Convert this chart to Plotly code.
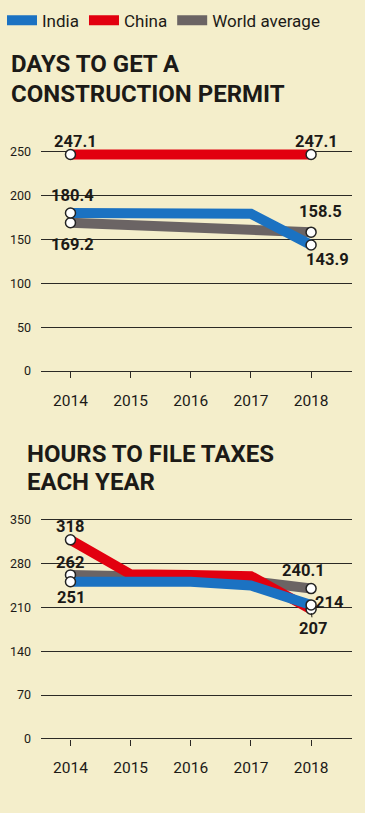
import plotly.graph_objects as go

# ---------------- data ----------------
years = [2014, 2015, 2016, 2017, 2018]
series_names = ["India", "China", "World average"]

permit_india = [180.4, 180.4, 180.4, 179.5, 143.9]
permit_china = [247.1, 247.1, 247.1, 247.1, 247.1]
permit_world = [169.2, 167.0, 165.0, 162.0, 158.5]
permit_ticks = [0, 50, 100, 150, 200, 250]

tax_india = [251, 251, 251, 245, 214]
tax_china = [318, 263, 262, 260, 207]
tax_world = [262, 260, 258, 252, 240.1]
tax_ticks = [0, 70, 140, 210, 280, 350]

title_permit = ["DAYS TO GET A", "CONSTRUCTION PERMIT"]
title_tax = ["HOURS TO FILE TAXES", "EACH YEAR"]

# ---------------- style ----------------
W, H = 365, 813
BG = "#f4eecb"
INK = "#1c1a17"
GRID = "#2b2925"
C_INDIA = "#1b72c2"
C_CHINA = "#e2000f"
C_WORLD = "#6b6464"
FONT = "Roboto, Liberation Sans, sans-serif"
LW = 10


def fy(px):
    return 1 - px / H


def fx(px):
    return px / W


x_dom = [fx(41), fx(352)]
x_rng = [2013.51, 2018.68]

# chart 1: 0 at 374.3px, 250 at 153.3px
c1_zero, c1_scale, c1_top = 374.3, (374.3 - 153.3) / 250, 280
# chart 2: 0 at 745.3px, 350 at 524.3px
c2_zero, c2_scale, c2_top = 745.3, (745.3 - 524.3) / 350, 380

fig = go.Figure()
RANK = {"India": 1, "China": 2, "World average": 3}


def add_line(vals, color, name, xa, ya, legend):
    fig.add_trace(go.Scatter(
        x=years, y=vals, name=name, mode="lines",
        line=dict(color=color, width=LW),
        xaxis=xa, yaxis=ya, showlegend=legend, hoverinfo="skip",
        legendrank=RANK[name],
    ))


def add_ends(vals, name, xa, ya):
    fig.add_trace(go.Scatter(
        x=[years[0], years[-1]], y=[vals[0], vals[-1]], name=name, mode="markers",
        marker=dict(size=10, color="white", line=dict(color="#222", width=1.5)),
        xaxis=xa, yaxis=ya, showlegend=False, hoverinfo="skip",
    ))


# draw order: world, china, india (india on top)
add_line(permit_world, C_WORLD, series_names[2], "x", "y", True)
add_line(permit_china, C_CHINA, series_names[1], "x", "y", True)
add_line(permit_india, C_INDIA, series_names[0], "x", "y", True)
add_ends(permit_world, series_names[2], "x", "y")
add_ends(permit_china, series_names[1], "x", "y")
add_ends(permit_india, series_names[0], "x", "y")

add_line(tax_world, C_WORLD, series_names[2], "x2", "y2", False)
add_line(tax_china, C_CHINA, series_names[1], "x2", "y2", False)
add_line(tax_india, C_INDIA, series_names[0], "x2", "y2", False)
add_ends(tax_world, series_names[2], "x2", "y2")
add_ends(tax_china, series_names[1], "x2", "y2")
add_ends(tax_india, series_names[0], "x2", "y2")

xcommon = dict(range=x_rng, domain=x_dom, tickmode="array", tickvals=years,
               ticktext=[str(y) for y in years], showgrid=False, zeroline=False,
               showline=False, ticks="outside", ticklen=6, tickwidth=1, tickcolor=GRID,
               tickfont=dict(family=FONT, size=15.5, color=INK), ticklabelstandoff=9,
               fixedrange=True)
xin = dict(range=x_rng, domain=x_dom, tickmode="array", tickvals=years,
           showticklabels=False, showgrid=False, zeroline=False, showline=False,
           ticks="inside", ticklen=7, tickwidth=1, tickcolor=GRID, fixedrange=True)
ycommon = dict(tickmode="array", showgrid=True, gridcolor=GRID, gridwidth=1,
               zeroline=True, zerolinecolor=GRID, zerolinewidth=1, ticks="",
               tickfont=dict(family=FONT, size=12.5, color=INK), ticklabelstandoff=9,
               fixedrange=True)

fig.update_layout(
    xaxis=dict(anchor="y", **xcommon),
    xaxis2=dict(anchor="y2", **xcommon),
    xaxis3=dict(anchor="y", overlaying="x", **xin),
    xaxis4=dict(anchor="y2", overlaying="x2", **xin),
    yaxis=dict(anchor="x", range=[0, c1_top], tickvals=permit_ticks,
               domain=[fy(c1_zero), fy(c1_zero - c1_top * c1_scale)], **ycommon),
    yaxis2=dict(anchor="x2", range=[0, c2_top], tickvals=tax_ticks,
                domain=[fy(c2_zero), fy(c2_zero - c2_top * c2_scale)], **ycommon),
)

ann = []
TSIZE = 24
# titles
for i, line in enumerate(title_permit):
    ann.append(dict(xref="paper", yref="paper", x=fx(9), y=fy([65, 94.5][i]),
                    xanchor="left", yanchor="middle", text="<b>%s</b>" % line,
                    showarrow=False, font=dict(family=FONT, size=TSIZE, color=INK)))
for i, line in enumerate(title_tax):
    ann.append(dict(xref="paper", yref="paper", x=fx(25), y=fy([457.5, 486.5][i]),
                    xanchor="left", yanchor="middle", text="<b>%s</b>" % line,
                    showarrow=False, font=dict(family=FONT, size=TSIZE, color=INK)))


def fmt(v):
    return "%g" % v


VSIZE = 16.5
# value labels: (series, index, xshift, yshift)
lab1 = [(permit_china, 0, 5, 13), (permit_china, 4, 5, 13),
        (permit_india, 0, 2, 17), (permit_world, 0, 2, -22),
        (permit_world, 4, 9, 21), (permit_india, 4, 16, -15)]
for s, i, dx, dy in lab1:
    ann.append(dict(xref="x", yref="y", x=years[i], y=s[i], text="<b>%s</b>" % fmt(s[i]),
                    showarrow=False, xshift=dx, yshift=dy, xanchor="center", yanchor="middle",
                    font=dict(family=FONT, size=VSIZE, color=INK)))
lab2 = [(tax_china, 0, 0, 13.5), (tax_world, 0, 0, 12.5), (tax_india, 0, 1, -16),
        (tax_world, 4, -8, 18), (tax_india, 4, 18, 2)]
for s, i, dx, dy in lab2:
    ann.append(dict(xref="x2", yref="y2", x=years[i], y=s[i], text="<b>%s</b>" % fmt(s[i]),
                    showarrow=False, xshift=dx, yshift=dy, xanchor="center", yanchor="middle",
                    font=dict(family=FONT, size=VSIZE, color=INK)))
# China 2018 tax label with leader line
ann.append(dict(xref="x2", yref="y2", x=years[4], y=tax_china[4], text="<b>%s</b>" % fmt(tax_china[4]),
                showarrow=True, arrowhead=0, arrowwidth=1, arrowcolor=INK, ax=2, ay=19,
                standoff=4, font=dict(family=FONT, size=VSIZE, color=INK)))

fig.update_layout(
    width=W, height=H, paper_bgcolor=BG, plot_bgcolor=BG,
    margin=dict(l=0, r=0, t=0, b=0),
    annotations=ann,
    showlegend=True,
    legend=dict(orientation="h", x=fx(2), y=fy(21), xanchor="left", yanchor="middle",
                font=dict(family=FONT, size=17, color=INK), itemwidth=30,
                bgcolor="rgba(0,0,0,0)", traceorder="normal"),
)

fig.write_html("out.html",
               config={"displayModeBar": False, "staticPlot": False},
               post_script="document.body.style.margin='0';document.body.style.overflow='hidden';")
